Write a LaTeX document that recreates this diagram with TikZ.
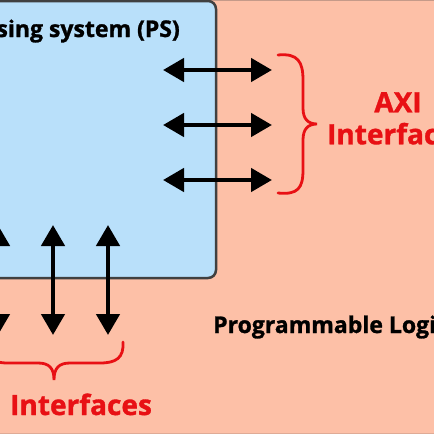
\documentclass[tikz,border=0pt]{standalone}
\usepackage{fontspec}
\setmainfont{Open Sans}[BoldFeatures={FakeBold=1.2}]
\usetikzlibrary{arrows.meta}
\definecolor{plFill}{RGB}{253,192,167}
\definecolor{psFill}{RGB}{185,224,250}
\definecolor{boxEdge}{RGB}{64,64,64}
\definecolor{braceRed}{RGB}{232,16,20}
\tikzset{
	busArrow/.style={line width=4.5pt,{Triangle[length=21pt,width=23pt]}-{Triangle[length=21pt,width=23pt]}},
	busBrace/.style={braceRed,line width=2.8pt,line cap=round},
	boxTitle/.style={font=\fontsize{23}{26}\selectfont\bfseries,text=black,inner sep=0pt},
	ifLabel/.style={font=\fontsize{28}{32}\selectfont\bfseries,text=braceRed,inner sep=0pt,align=center}
}
\begin{document}
\begin{tikzpicture}[x=1pt,y=-1pt]
	\useasboundingbox (0,0) rectangle (434,434);
	\clip (0,0) rectangle (434,434);
	%programmable logic area and processing system block
	\filldraw[fill=plFill,draw=boxEdge!45!plFill,line width=2pt,rounded corners=8pt] (-60,-0.5) rectangle (600,434.5);
	\filldraw[fill=psFill,draw=boxEdge,line width=2.5pt,rounded corners=8pt] (-60,1) rectangle (216,278);
	
	%end points of the bus arrows
	\foreach \n/\y in {1/70,2/125,3/180}{
		\coordinate (axiL\n) at (163,\y);
		\coordinate (axiR\n) at (272,\y);
	}
	\foreach \n/\x in {1/-2,2/53,3/108}{
		\coordinate (ioT\n) at (\x,225);
		\coordinate (ioB\n) at (\x,335);
	}
	\foreach \n in {1,2,3}{
		\draw[busArrow] (axiL\n) -- (axiR\n);
		\draw[busArrow] (ioT\n) -- (ioB\n);
	}
	
	%braces, drawn by hand
	\draw[busBrace] (278,55) .. controls (298,53) and (303,62) .. (303,80) -- (303,108)
		.. controls (303,119) and (308,124) .. (317,124)
		.. controls (308,124) and (303,129) .. (303,140) -- (303,170)
		.. controls (303,188) and (298,195) .. (278,193);
	\draw[busBrace] (123,342) .. controls (124,358) and (116,363) .. (100,363) -- (70,363)
		.. controls (59,363) and (54,368) .. (54,380)
		.. controls (54,368) and (49,363) .. (38,363) -- (8,363)
		.. controls (-8,363) and (-16,358) .. (-17,342);
	
	%labels
	\node[boxTitle,anchor=base east] (psTitle) at (180,37) {Processing system (PS)};
	\node[boxTitle,anchor=base west] (plTitle) at (213,333) {Programmable Logic (PL)};
	\node[ifLabel,anchor=north] (axiLabel) at (398,92) {AXI\\Interfaces};
	\node[ifLabel,anchor=base west] (ioLabel) at (10,415) {Interfaces};
\end{tikzpicture}
\end{document}
